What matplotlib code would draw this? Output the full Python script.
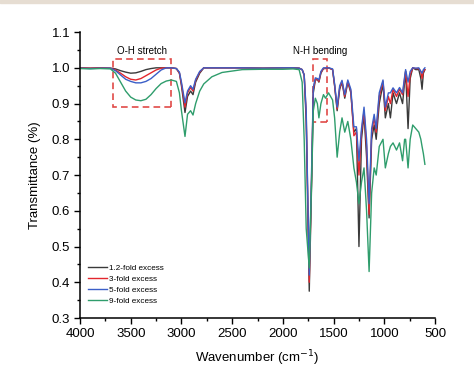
import numpy as np
import matplotlib.pyplot as plt
from matplotlib.patches import Rectangle

plt.rcParams['font.family'] = ['Liberation Sans', 'DejaVu Sans']

# wavenumber keypoints (cm-1)
wavenumber = [4000, 3900, 3800, 3700, 3650, 3600, 3550, 3500, 3450, 3400,
              3350, 3300, 3250, 3200, 3150, 3100, 3050, 3020, 3000, 2965,
              2940, 2910, 2886, 2860, 2820, 2780, 2700, 2600, 2400, 2200,
              2000, 1900, 1840, 1810, 1790, 1770, 1740, 1715, 1700, 1680,
              1660, 1645, 1625, 1600, 1580, 1550, 1510, 1490, 1465, 1440,
              1417, 1390, 1360, 1330, 1300, 1275, 1250, 1225, 1200, 1175,
              1150, 1125, 1100, 1080, 1050, 1013, 990, 960, 940, 914,
              880, 850, 820, 800, 790, 766, 745, 720, 690, 660,
              640, 628, 615, 600]

fold_1_2 = [1.000, 0.999, 1.000, 0.999, 0.997, 0.992, 0.988, 0.985, 0.986, 0.990,
            0.995, 0.998, 1.000, 1.000, 1.000, 1.000, 0.998, 0.985, 0.950, 0.875,
            0.920, 0.935, 0.925, 0.960, 0.985, 1.000, 1.000, 1.000, 1.000, 0.999,
            1.000, 1.000, 0.999, 0.995, 0.980, 0.850, 0.375, 0.700, 0.930, 0.965,
            0.968, 0.960, 0.985, 0.998, 0.998, 1.000, 0.995, 0.950, 0.880, 0.940,
            0.960, 0.915, 0.960, 0.930, 0.820, 0.830, 0.500, 0.800, 0.870, 0.750,
            0.580, 0.800, 0.840, 0.800, 0.900, 0.955, 0.860, 0.900, 0.860, 0.930,
            0.900, 0.930, 0.900, 0.960, 0.990, 0.830, 0.970, 1.000, 0.995, 0.995,
            0.970, 0.940, 0.985, 0.995]

fold_3 = [1.000, 0.999, 1.000, 0.999, 0.994, 0.985, 0.975, 0.968, 0.966, 0.970,
          0.978, 0.986, 0.994, 0.999, 1.000, 1.000, 0.998, 0.985, 0.955, 0.890,
          0.930, 0.945, 0.935, 0.965, 0.988, 1.000, 1.000, 1.000, 1.000, 0.999,
          1.000, 1.000, 0.999, 0.995, 0.980, 0.870, 0.400, 0.720, 0.940, 0.968,
          0.968, 0.962, 0.988, 0.998, 0.999, 1.000, 0.995, 0.950, 0.885, 0.945,
          0.962, 0.920, 0.962, 0.935, 0.810, 0.820, 0.700, 0.820, 0.880, 0.780,
          0.590, 0.820, 0.860, 0.820, 0.920, 0.962, 0.880, 0.920, 0.900, 0.940,
          0.920, 0.940, 0.925, 0.970, 0.990, 0.920, 0.980, 1.000, 0.998, 0.998,
          0.990, 0.970, 0.990, 0.995]

fold_5 = [0.999, 0.998, 0.999, 0.999, 0.992, 0.980, 0.968, 0.962, 0.958, 0.958,
          0.962, 0.970, 0.982, 0.994, 1.000, 1.000, 0.998, 0.988, 0.960, 0.902,
          0.935, 0.950, 0.940, 0.968, 0.990, 1.000, 1.000, 1.000, 1.000, 0.999,
          1.000, 1.000, 0.999, 0.995, 0.980, 0.880, 0.420, 0.740, 0.945, 0.972,
          0.970, 0.966, 0.990, 1.000, 1.000, 1.000, 0.997, 0.955, 0.890, 0.950,
          0.965, 0.925, 0.966, 0.940, 0.835, 0.835, 0.740, 0.830, 0.890, 0.800,
          0.620, 0.830, 0.870, 0.830, 0.930, 0.966, 0.890, 0.930, 0.930, 0.944,
          0.930, 0.945, 0.930, 0.975, 0.995, 0.960, 0.990, 1.000, 0.999, 1.000,
          0.990, 0.985, 0.995, 1.000]

fold_9 = [0.998, 0.997, 0.998, 0.997, 0.985, 0.960, 0.935, 0.918, 0.910, 0.908,
          0.912, 0.925, 0.942, 0.956, 0.963, 0.966, 0.962, 0.930, 0.880, 0.808,
          0.870, 0.880, 0.868, 0.900, 0.935, 0.955, 0.975, 0.987, 0.995, 0.996,
          0.996, 0.997, 0.995, 0.960, 0.800, 0.550, 0.440, 0.700, 0.880, 0.915,
          0.900, 0.860, 0.900, 0.925, 0.915, 0.930, 0.910, 0.860, 0.750, 0.820,
          0.860, 0.820, 0.850, 0.800, 0.720, 0.680, 0.620, 0.680, 0.720, 0.600,
          0.430, 0.650, 0.720, 0.700, 0.780, 0.800, 0.720, 0.760, 0.780, 0.790,
          0.770, 0.790, 0.740, 0.800, 0.800, 0.720, 0.800, 0.840, 0.830, 0.820,
          0.800, 0.780, 0.760, 0.730]

labels = ['1.2-fold excess', '3-fold excess', '5-fold excess', '9-fold excess']
colors = ['#3a3a3a', '#e3262d', '#3b5fc8', '#2f9d6c']


def main():
    fig = plt.figure(figsize=(4.74, 3.89), dpi=100)
    ax = fig.add_axes([0.1688, 0.1825, 0.749, 0.735])

    # thin beige band along the top edge of the page
    fig.patches.append(Rectangle((0, 1 - 3 / 389), 1, 3 / 389, transform=fig.transFigure,
                                 color='#e6ddd2', zorder=0))

    for series, label, color in zip([fold_1_2, fold_3, fold_5, fold_9], labels, colors):
        ax.plot(wavenumber, series, color=color, lw=1.0, label=label)

    # highlighted regions
    box_kw = dict(fill=False, edgecolor='#e04a48', lw=1.2, ls=(0, (4, 2.5)))
    ax.add_patch(Rectangle((3103, 0.891), 3675 - 3103, 1.025 - 0.891, **box_kw))
    ax.add_patch(Rectangle((1565, 0.849), 1703 - 1565, 1.025 - 0.849, **box_kw))
    ax.text(3389, 1.034, 'O-H stretch', ha='center', va='bottom', fontsize=7)
    ax.text(1634, 1.034, 'N-H bending', ha='center', va='bottom', fontsize=7)

    ax.set_xlim(4000, 500)
    ax.set_ylim(0.3, 1.1)
    ax.set_xticks(np.arange(4000, 499, -500))
    ax.set_xticks(np.arange(3750, 500, -500), minor=True)
    ax.set_yticks(np.arange(0.3, 1.101, 0.1))
    ax.set_yticks(np.arange(0.35, 1.1, 0.1), minor=True)
    ax.yaxis.set_major_formatter(plt.FormatStrFormatter('%.1f'))
    ax.tick_params(which='major', direction='out', length=4, width=1, labelsize=9.5, pad=3)
    ax.tick_params(which='minor', direction='out', length=2.5, width=1)

    for side in ['top', 'right']:
        ax.spines[side].set_visible(False)
    for side in ['left', 'bottom']:
        ax.spines[side].set_linewidth(1.1)

    ax.set_xlabel('Wavenumber (cm$^{-1}$)', fontsize=9.5, labelpad=6)
    ax.set_ylabel('Transmittance (%)', fontsize=9.5, labelpad=8)

    ax.legend(loc='lower left', bbox_to_anchor=(0.005, 0.025), frameon=False, fontsize=5.9,
              handlelength=2.4, handletextpad=0.2, labelspacing=0.42, borderpad=0.2)

    fig.savefig('out.png', dpi=100)


if __name__ == '__main__':
    main()
